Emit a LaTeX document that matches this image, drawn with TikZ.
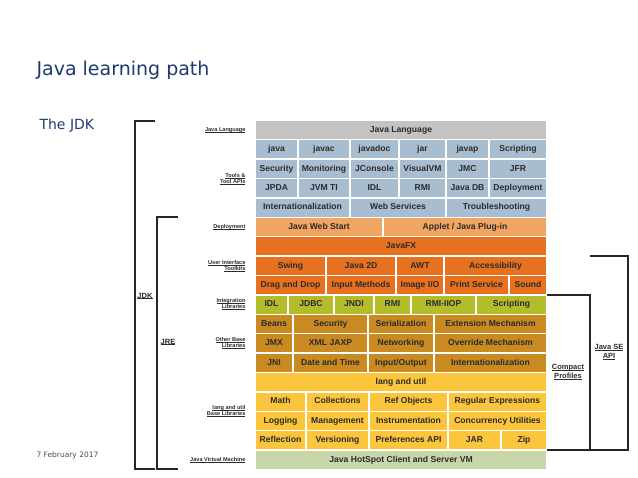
\documentclass[tikz,border=0pt]{standalone}
\usepackage{fontspec}
\setmainfont{Liberation Sans}
\newfontfamily\titlefont{DejaVu Sans}
\definecolor{cgray}{HTML}{C3C3C3}
\definecolor{cblue}{HTML}{A9BDD0}
\definecolor{clor}{HTML}{F2A463}
\definecolor{cdor}{HTML}{E8711F}
\definecolor{cgrn}{HTML}{B4BC2C}
\definecolor{cbrn}{HTML}{C98A21}
\definecolor{cyel}{HTML}{FBC63C}
\definecolor{cvm}{HTML}{C7D7A9}
\definecolor{ctitle}{HTML}{1F3A70}
\definecolor{ctxt}{HTML}{2B2B2B}
\newcommand\ul[1]{\setbox0\hbox{#1}\rlap{\rule[-0.13em]{\wd0}{0.08em}}\box0}
\tikzset{
  box/.style={inner sep=0pt,minimum height=18pt,text height=6.3pt,text depth=1.7pt,font=\bfseries\fontsize{8.6}{9}\selectfont,text=ctxt},
  side/.style={align=right,anchor=east,font=\bfseries\fontsize{5.6}{6.2}\selectfont,text=ctxt},
  brk/.style={line width=1.3pt,black!85},
  blab/.style={align=center,font=\bfseries\fontsize{7.5}{8.3}\selectfont,text=ctxt}
}
\newcommand\bx[6]{\node[box,fill=#4,minimum width={(#2-#1)*1pt}] (#6) at ({(#1+#2)/2},{121+19.4*#3+9}) {#5};}
\begin{document}
\begin{tikzpicture}[x=1pt,y=-1pt]
\useasboundingbox (0,0) rectangle (638,478);
\node[anchor=west,font=\titlefont\fontsize{19}{22}\selectfont,text=ctitle] (title) at (33,70) {Java learning path};
\node[anchor=west,font=\titlefont\fontsize{14}{16}\selectfont,text=ctitle] (jdkt) at (36,126) {The JDK};
\node[anchor=west,font=\titlefont\fontsize{7.5}{9}\selectfont,text=black!70] (date) at (33,455) {7 February 2017};
% rows
\bx{256}{546}{0}{cgray}{Java Language}{r0}
\bx{256}{297}{1}{cblue}{java}{a1}\bx{299}{349}{1}{cblue}{javac}{a2}\bx{351}{398}{1}{cblue}{javadoc}{a3}\bx{400}{445}{1}{cblue}{jar}{a4}\bx{447}{488}{1}{cblue}{javap}{a5}\bx{490}{546}{1}{cblue}{Scripting}{a6}
\bx{256}{297}{2}{cblue}{Security}{b1}\bx{299}{349}{2}{cblue}{Monitoring}{b2}\bx{351}{398}{2}{cblue}{JConsole}{b3}\bx{400}{445}{2}{cblue}{VisualVM}{b4}\bx{447}{488}{2}{cblue}{JMC}{b5}\bx{490}{546}{2}{cblue}{JFR}{b6}
\bx{256}{297}{3}{cblue}{JPDA}{c1}\bx{299}{349}{3}{cblue}{JVM TI}{c2}\bx{351}{398}{3}{cblue}{IDL}{c3}\bx{400}{445}{3}{cblue}{RMI}{c4}\bx{447}{488}{3}{cblue}{Java DB}{c5}\bx{490}{546}{3}{cblue}{Deployment}{c6}
\bx{256}{349}{4}{cblue}{Internationalization}{d1}\bx{351}{445}{4}{cblue}{Web Services}{d2}\bx{447}{546}{4}{cblue}{Troubleshooting}{d3}
\bx{256}{382}{5}{clor}{Java Web Start}{e1}\bx{384}{546}{5}{clor}{Applet / Java Plug-in}{e2}
\bx{256}{546}{6}{cdor}{JavaFX}{f1}
\bx{256}{325}{7}{cdor}{Swing}{g1}\bx{327}{395}{7}{cdor}{Java 2D}{g2}\bx{397}{443}{7}{cdor}{AWT}{g3}\bx{445}{546}{7}{cdor}{Accessibility}{g4}
\bx{256}{325}{8}{cdor}{Drag and Drop}{h1}\bx{327}{395}{8}{cdor}{Input Methods}{h2}\bx{397}{443}{8}{cdor}{Image I/O}{h3}\bx{445}{508}{8}{cdor}{Print Service}{h4}\bx{510}{546}{8}{cdor}{Sound}{h5}
\bx{256}{287}{9}{cgrn}{IDL}{i1}\bx{289}{333}{9}{cgrn}{JDBC}{i2}\bx{335}{373}{9}{cgrn}{JNDI}{i3}\bx{375}{410}{9}{cgrn}{RMI}{i4}\bx{412}{475}{9}{cgrn}{RMI-IIOP}{i5}\bx{477}{546}{9}{cgrn}{Scripting}{i6}
\bx{256}{292}{10}{cbrn}{Beans}{j1}\bx{294}{367}{10}{cbrn}{Security}{j2}\bx{369}{433}{10}{cbrn}{Serialization}{j3}\bx{435}{546}{10}{cbrn}{Extension Mechanism}{j4}
\bx{256}{292}{11}{cbrn}{JMX}{k1}\bx{294}{367}{11}{cbrn}{XML JAXP}{k2}\bx{369}{433}{11}{cbrn}{Networking}{k3}\bx{435}{546}{11}{cbrn}{Override Mechanism}{k4}
\bx{256}{292}{12}{cbrn}{JNI}{l1}\bx{294}{367}{12}{cbrn}{Date and Time}{l2}\bx{369}{433}{12}{cbrn}{Input/Output}{l3}\bx{435}{546}{12}{cbrn}{Internationalization}{l4}
\bx{256}{546}{13}{cyel}{lang and util}{m1}
\bx{256}{305}{14}{cyel}{Math}{n1}\bx{307}{368}{14}{cyel}{Collections}{n2}\bx{370}{447}{14}{cyel}{Ref Objects}{n3}\bx{449}{546}{14}{cyel}{Regular Expressions}{n4}
\bx{256}{305}{15}{cyel}{Logging}{o1}\bx{307}{368}{15}{cyel}{Management}{o2}\bx{370}{447}{15}{cyel}{Instrumentation}{o3}\bx{449}{546}{15}{cyel}{Concurrency Utilities}{o4}
\bx{256}{305}{16}{cyel}{Reflection}{p1}\bx{307}{368}{16}{cyel}{Versioning}{p2}\bx{370}{447}{16}{cyel}{Preferences API}{p3}\bx{449}{500}{16}{cyel}{JAR}{p4}\bx{502}{546}{16}{cyel}{Zip}{p5}
\node[box,fill=cvm,minimum width=290pt] (vm) at (401,460) {Java HotSpot Client and Server VM};
% side labels
\node[side] (s1) at (249,130) {\ul{Java Language}};
\node[side] (s2) at (249,179) {\ul{Tools \&}\\\ul{Tool APIs}};
\node[side] (s3) at (249,227) {\ul{Deployment}};
\node[side] (s4) at (249,266) {\ul{User Interface}\\\ul{Toolkits}};
\node[side] (s5) at (249,304) {\ul{Integration}\\\ul{Libraries}};
\node[side] (s6) at (249,343) {\ul{Other Base}\\\ul{Libraries}};
\node[side] (s7) at (249,411) {\ul{lang and util}\\\ul{Base Libraries}};
\node[side] (s8) at (249,460) {\ul{Java Virtual Machine}};
% brackets
\draw[brk] (155,121) -- (135,121) -- (135,469) -- (155,469);
\node[blab,fill=white,inner sep=1pt] (jdk) at (145,296) {\ul{JDK}};
\draw[brk] (178,217) -- (157,217) -- (157,469) -- (178,469);
\node[blab,fill=white,inner sep=1pt] (jre) at (168,342) {\ul{JRE}};
\draw[brk] (547,295) -- (590,295) -- (590,450) -- (547,450);
\node[blab] (cp) at (568,372) {\ul{Compact}\\\ul{Profiles}};
\draw[brk] (590,256) -- (628,256) -- (628,450) -- (590,450);
\node[blab] (se) at (609,352) {\ul{Java SE}\\\ul{API}};
\end{tikzpicture}
\end{document}
